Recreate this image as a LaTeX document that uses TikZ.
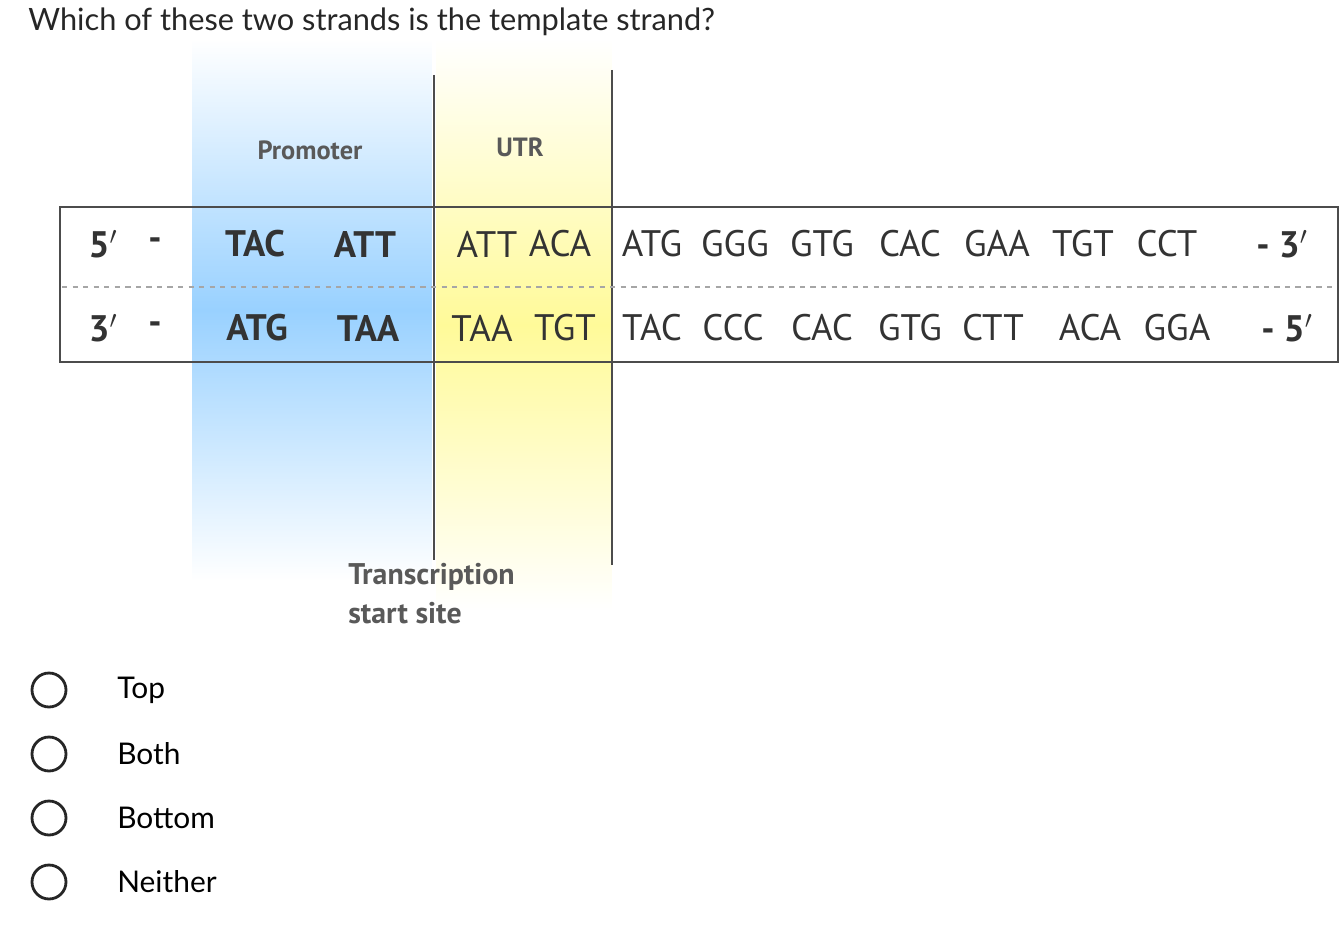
\documentclass[tikz,border=0pt]{standalone}
\usepackage{fontspec}
\setmainfont{Lato}
\newfontfamily\seqf{PT Sans}
\usetikzlibrary{fadings}
\tikzfading[name=vfade, top color=transparent!100, bottom color=transparent!100, middle color=transparent!0]
\tikzset{
 codon/.style={font=\seqf\fontsize{21}{21}\selectfont, text=black!80, inner sep=0},
 bcodon/.style={codon, font=\seqf\bfseries\fontsize{21}{21}\selectfont},
 lab/.style={font=\seqf\bfseries\fontsize{15}{17}\selectfont, text=black!65, inner sep=0},
 opt/.style={font=\fontsize{17}{20}\selectfont, anchor=west, inner sep=0},
 radio/.style={circle, draw=black!85, line width=1.6pt, minimum size=0.68cm, inner sep=0}
}
\begin{document}
\begin{tikzpicture}[x=0.02cm,y=-0.02cm]
\useasboundingbox (0,0) rectangle (1344,946);
\node[anchor=west, inner sep=0, font=\fontsize{17.5}{20}\selectfont, text=black!85] (title) at (28,22) {Which of these two strands is the template strand?};
\fill[blue!45!cyan!40, path fading=vfade] (192,40) rectangle (432,580);
\fill[yellow!40, path fading=vfade] (436,40) rectangle (612,610);
\draw[black!70, line width=0.8pt] (434,75) -- (434,560);
\draw[black!70, line width=0.8pt] (612,70) -- (612,565);
\draw[black!70, line width=1pt] (60,207) rectangle (1338,362);
\draw[black!35, dashed, line width=0.8pt] (62,287) -- (1336,287);
\node[lab] (prom) at (310,150) {Promoter};
\node[lab] (utr) at (520,147) {UTR};
\node[lab, font=\seqf\bfseries\fontsize{17}{21}\selectfont, align=left, anchor=north west] (tss) at (348,563) {Transcription\\[1pt]start site};
\foreach \t/\x/\s [count=\i] in {5$'$/103/bcodon,-/155/bcodon,TAC/255/bcodon,ATT/365/bcodon,ATT/487/codon,ACA/560/codon,ATG/652/codon,GGG/735/codon,GTG/822/codon,CAC/910/codon,GAA/997/codon,TGT/1083/codon,CCT/1167/codon,- 3$'$/1282/bcodon}
  \node[\s] (t\i) at (\x,244) {\t};
\foreach \t/\x/\s [count=\i] in {3$'$/103/bcodon,-/155/bcodon,ATG/257/bcodon,TAA/368/bcodon,TAA/482/codon,TGT/565/codon,TAC/652/codon,CCC/733/codon,CAC/822/codon,GTG/910/codon,CTT/993/codon,ACA/1090/codon,GGA/1177/codon,- 5$'$/1287/bcodon}
  \node[\s] (b\i) at (\x,328) {\t};
\foreach \t/\y [count=\i] in {Top/690,Both/754,Bottom/818,Neither/882}{
  \node[radio] (r\i) at (49,\y) {};
  \node[opt] (o\i) at (117,\y) {\t};
}
\end{tikzpicture}
\end{document}
